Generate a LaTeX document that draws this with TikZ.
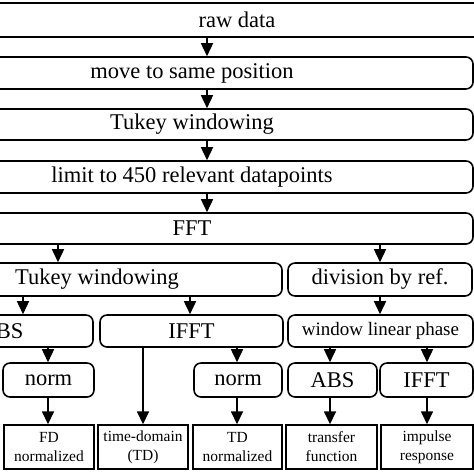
\documentclass[tikz,border=0pt]{standalone}
\usepackage{fontspec}
\setmainfont{Liberation Serif}
\usepackage{tikz}
\usetikzlibrary{
  arrows.meta,
  positioning
}
\tikzset{
  procbox/.style={
    draw=black,
    fill=white,
    rounded corners=4pt,
    line width=0.9pt,
    align=center,
    font=\fontsize{12.8}{14}\selectfont,
    minimum height=0.64cm,
    inner sep=0pt
  },
  resbox/.style={
    draw=black,
    fill=white,
    line width=0.8pt,
    align=center,
    font=\fontsize{8.8}{10.8}\selectfont,
    minimum width=1.8cm,
    minimum height=0.88cm,
    inner sep=0pt
  },
  procarrow/.style={
    -{Triangle[length=2.6mm,width=2.4mm]},
    line width=0.9pt,
    black
  }
}

\begin{document}
\begin{tikzpicture}
  \useasboundingbox (0,0) rectangle (9.48,-9.48);
  \clip (0,0) rectangle (9.48,-9.48);

  % columns of the connectors
  \coordinate (xmain) at (4.14,0);
  \coordinate (xleft) at (1.16,0);
  \coordinate (xright) at (7.60,0);
  \coordinate (xabs) at (0.46,0);
  \coordinate (xifft) at (3.80,0);
  \coordinate (xfd) at (0.96,0);
  \coordinate (xtdn) at (4.74,0);
  \coordinate (xtd) at (2.86,0);
  \coordinate (xtf) at (6.60,0);
  \coordinate (xir) at (8.54,0);

  % main chain
  \node[procbox, minimum width=9.88cm, minimum height=0.68cm] (raw) at (4.74,-0.40) {raw data};
  \node[procbox, minimum width=11.24cm] (move) at (3.84,-1.46) {move to same position};
  \node[procbox, minimum width=11.24cm, minimum height=0.62cm] (tukeyA) at (3.84,-2.49) {Tukey windowing};
  \node[procbox, minimum width=11.24cm] (limit) at (3.84,-3.54) {limit to 450 relevant datapoints};
  \node[procbox, minimum width=11.24cm, minimum height=0.62cm] (fft) at (3.84,-4.57) {FFT};

  % branches
  \node[procbox, minimum width=7.40cm, minimum height=0.66cm] (tukeyB) at (1.94,-5.59) {Tukey windowing};
  \node[procbox, minimum width=3.68cm, minimum height=0.66cm] (divref) at (7.60,-5.59) {division by ref.};

  \node[procbox, minimum width=3.66cm] (absA) at (0.03,-6.62) {ABS};
  \node[procbox, minimum width=3.66cm] (ifftA) at (3.83,-6.62) {IFFT};
  \node[procbox, minimum width=3.70cm, font=\fontsize{10.8}{12}\selectfont] (winlin) at (7.61,-6.62) {window linear phase};

  \node[procbox, minimum width=1.82cm, minimum height=0.68cm] (normA) at (0.97,-7.60) {norm};
  \node[procbox, minimum width=1.76cm, minimum height=0.68cm] (normB) at (4.76,-7.60) {norm};
  \node[procbox, minimum width=1.78cm, minimum height=0.68cm] (absB) at (6.65,-7.60) {ABS};
  \node[procbox, minimum width=1.86cm, minimum height=0.68cm] (ifftB) at (8.53,-7.60) {IFFT};

  % results
  \node[resbox] (fdn) at (0.98,-8.94) {FD\\normalized};
  \node[resbox] (tdom) at (2.86,-8.94) {time-domain\\(TD)};
  \node[resbox, minimum width=1.78cm] (tdn) at (4.75,-8.94) {TD\\normalized};
  \node[resbox, minimum width=1.82cm] (trf) at (6.63,-8.94) {transfer\\function};
  \node[resbox, minimum width=1.84cm] (imp) at (8.54,-8.94) {impulse\\response};

  \draw[procarrow] (raw.south -| xmain) -- (move.north -| xmain);
  \draw[procarrow] (move.south -| xmain) -- (tukeyA.north -| xmain);
  \draw[procarrow] (tukeyA.south -| xmain) -- (limit.north -| xmain);
  \draw[procarrow] (limit.south -| xmain) -- (fft.north -| xmain);
  \draw[procarrow] (fft.south -| xleft) -- (tukeyB.north -| xleft);
  \draw[procarrow] (fft.south -| xright) -- (divref.north -| xright);
  \draw[procarrow] (tukeyB.south -| xabs) -- (absA.north -| xabs);
  \draw[procarrow] (tukeyB.south -| xifft) -- (ifftA.north -| xifft);
  \draw[procarrow] (divref.south -| xright) -- (winlin.north -| xright);
  \draw[procarrow] (absA.south -| xfd) -- (normA.north -| xfd);
  \draw[procarrow] (ifftA.south -| xtdn) -- (normB.north -| xtdn);
  \draw[procarrow] (ifftA.south -| xtd) -- (tdom.north -| xtd);
  \draw[procarrow] (winlin.south -| xtf) -- (absB.north -| xtf);
  \draw[procarrow] (winlin.south -| xir) -- (ifftB.north -| xir);
  \draw[procarrow] (normA.south -| xfd) -- (fdn.north -| xfd);
  \draw[procarrow] (normB.south -| xtdn) -- (tdn.north -| xtdn);
  \draw[procarrow] (absB.south -| xtf) -- (trf.north -| xtf);
  \draw[procarrow] (ifftB.south -| xir) -- (imp.north -| xir);
\end{tikzpicture}
\end{document}
